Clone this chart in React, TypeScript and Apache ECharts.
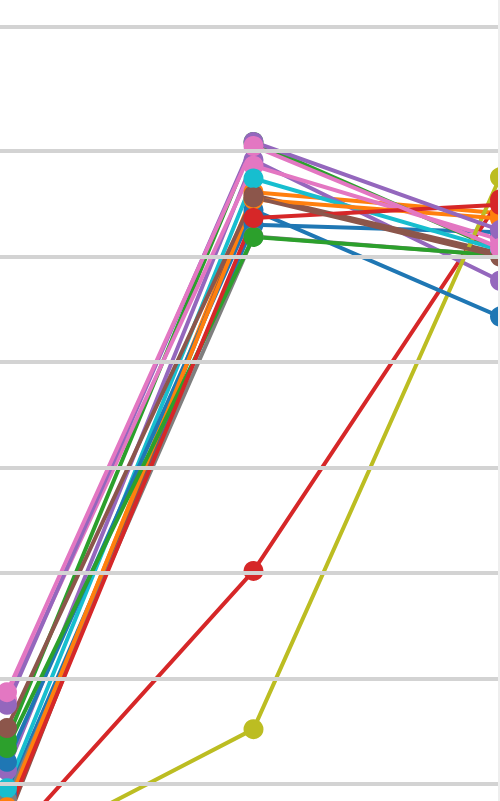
import React, { useEffect, useRef } from 'react';
import * as echarts from 'echarts';

// tab10 palette
const PALLET = [
  '#1f77b4',
  '#ff7f0e',
  '#2ca02c',
  '#d62728',
  '#9467bd',
  '#8c564b',
  '#e377c2',
  '#7f7f7f',
  '#bcbd22',
  '#17becf',
];

const STAGES = [0, 1, 2];
const GRID_VALUES = [0, 10, 20, 30, 40, 50, 60, 71.75];

// values per stage (left, middle, right)
const blueA = [-1.0, 53.0, 52.3];
const orangeA = [-2.7, 56.1, 54.1];
const greenA = [4.2, 60.85, 50.6];
const redA = [-5.7, 20.2, 55.4];
const purpleA = [1.3, 59.15, 47.7];
const brownA = [-3.5, 55.8, 50.3];
const pinkA = [8.0, 58.6, 51.6];
const grayA = [-1.5, 51.9, 50.1];
const oliveA = [-6.9, 5.2, 57.5];
const cyanA = [-0.4, 57.4, 50.6];
const blueB = [2.1, 54.4, 44.3];
const orangeB = [-2.2, 55.4, 53.6];
const greenB = [3.4, 51.85, 50.1];
const redB = [-3.0, 53.65, 54.9];
const purpleB = [7.5, 60.85, 52.5];
const brownB = [5.3, 55.6, 50.0];
const pinkB = [8.7, 60.47, 50.8];

const SERIES_VALUES = [
  blueA,
  orangeA,
  greenA,
  redA,
  purpleA,
  brownA,
  pinkA,
  grayA,
  oliveA,
  cyanA,
  blueB,
  orangeB,
  greenB,
  redB,
  purpleB,
  brownB,
  pinkB,
];

const CHART_HEIGHT = 900;

const App = (): JSX.Element => {
  const divEL = useRef(null);

  useEffect(() => {
    const instance = echarts.init(divEL.current as any, null, { renderer: 'svg' });

    const lines: any[] = SERIES_VALUES.map((values, idx) => {
      const color = PALLET[idx % PALLET.length];
      return {
        name: 's' + idx,
        type: 'line',
        data: values.map((v, i) => [STAGES[i], v]),
        symbol: 'circle',
        symbolSize: 20,
        lineStyle: { width: 4, color },
        itemStyle: { borderWidth: 0, color },
        emphasis: { disabled: true },
        z: 3,
      };
    });

    const option: any = {
      animation: false,
      backgroundColor: '#ffffff',
      grid: {
        left: 0,
        right: -1,
        top: 27,
        bottom: CHART_HEIGHT - 889.5,
      },
      xAxis: {
        type: 'value',
        min: -0.02834,
        max: 2,
        show: false,
      },
      yAxis: {
        type: 'value',
        min: -10,
        max: 71.75,
        show: false,
      },
      series: [
        {
          name: 'grid',
          type: 'line',
          data: [],
          z: 1,
          silent: true,
          markLine: {
            silent: true,
            symbol: 'none',
            label: { show: false },
            lineStyle: { color: '#d3d3d3', width: 4, type: 'solid' },
            emphasis: { disabled: true },
            data: GRID_VALUES.map((v) => ({ yAxis: v })),
          },
        },
        ...lines,
      ],
      graphic: [
        {
          type: 'rect',
          left: 498,
          top: 0,
          shape: { width: 2, height: CHART_HEIGHT },
          style: { fill: '#eeeeee' },
          z: 100,
        },
      ],
    };

    instance.setOption(option);

    return () => {
      instance.dispose();
    };
  }, []);

  return (
    <div
      style={{
        position: 'fixed',
        left: 0,
        top: 0,
        width: 500,
        height: 801,
        overflow: 'hidden',
      }}
    >
      <div ref={divEL} style={{ width: 500, height: CHART_HEIGHT }}></div>
    </div>
  );
};

export default App;
